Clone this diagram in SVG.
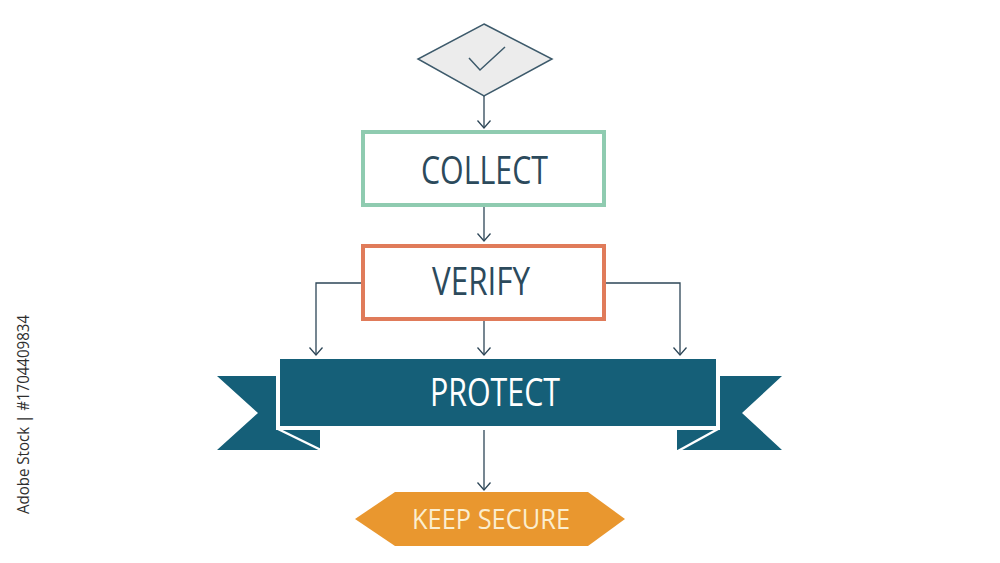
<svg xmlns="http://www.w3.org/2000/svg" width="1000" height="563" viewBox="0 0 1000 563">
<defs>
<style>
.lbl{font-family:"Open Sans","Liberation Sans",sans-serif;text-anchor:middle;}
.dark{fill:#2c4a5c;}
.conn{fill:none;stroke:#2d4657;stroke-width:1.3;}
</style>
<marker id="arr" viewBox="-9 -8 10 16" markerWidth="10" markerHeight="16" markerUnits="userSpaceOnUse" refX="0" refY="0" orient="auto">
<path d="M-7.5,-6.5 L0,0 L-7.5,6.5" fill="none" stroke="#2d4657" stroke-width="1.3"/>
</marker>
</defs>
<rect width="1000" height="563" fill="#ffffff"/>

<g id="start">
<polygon points="484,24 552,59 484,96 418,59" fill="#ececec" stroke="#3d5a6b" stroke-width="1.5"/>
<polyline points="469,58 480,70 505,47" fill="none" stroke="#3d5a6b" stroke-width="1.5"/>
</g>

<g id="collect">
<rect x="363" y="132" width="241" height="73" fill="#ffffff" stroke="#8fcbb0" stroke-width="4"/>
<text class="lbl dark" x="484.5" y="184" font-size="39" textLength="127" lengthAdjust="spacingAndGlyphs">COLLECT</text>
</g>

<g id="verify">
<rect x="363" y="246" width="241" height="73" fill="#ffffff" stroke="#e07b5a" stroke-width="4"/>
<text class="lbl dark" x="481" y="295" font-size="38" textLength="98" lengthAdjust="spacingAndGlyphs">VERIFY</text>
</g>

<g id="protect">
<polygon points="217,376 320,376 320,450 217,450 258,413" fill="#155f78"/>
<polygon points="677,376 782,376 742,413 782,450 677,450" fill="#155f78"/>
<rect x="278" y="357" width="440" height="71" fill="#155f78" stroke="#ffffff" stroke-width="4"/>
<line x1="278" y1="429" x2="321" y2="450" stroke="#ffffff" stroke-width="2.5"/>
<line x1="718" y1="429" x2="678" y2="451" stroke="#ffffff" stroke-width="2.5"/>
<text class="lbl" x="495" y="406" font-size="38" fill="#ffffff" textLength="130" lengthAdjust="spacingAndGlyphs">PROTECT</text>
</g>

<g id="keep-secure">
<polygon points="355,519 395,492 588,492 625,519 588,546 395,546" fill="#e9972f"/>
<text class="lbl" x="491" y="529" font-size="27" fill="#fbeed0" textLength="158" lengthAdjust="spacingAndGlyphs">KEEP SECURE</text>
</g>

<g id="connectors">
<line class="conn" x1="484" y1="96" x2="484" y2="128" marker-end="url(#arr)"/>
<line class="conn" x1="484" y1="207" x2="484" y2="241" marker-end="url(#arr)"/>
<line class="conn" x1="484" y1="321" x2="484" y2="355" marker-end="url(#arr)"/>
<polyline class="conn" points="361,283 316,283 316,355" marker-end="url(#arr)"/>
<polyline class="conn" points="606,283 680,283 680,355" marker-end="url(#arr)"/>
<line class="conn" x1="484" y1="430" x2="484" y2="490" marker-end="url(#arr)"/>
</g>

<text x="29" y="514" transform="rotate(-90 29 514)" font-family="'Open Sans','Liberation Sans',sans-serif" font-size="17" fill="#2e2e2e" textLength="199" lengthAdjust="spacingAndGlyphs">Adobe Stock | #1704409834</text>
</svg>
